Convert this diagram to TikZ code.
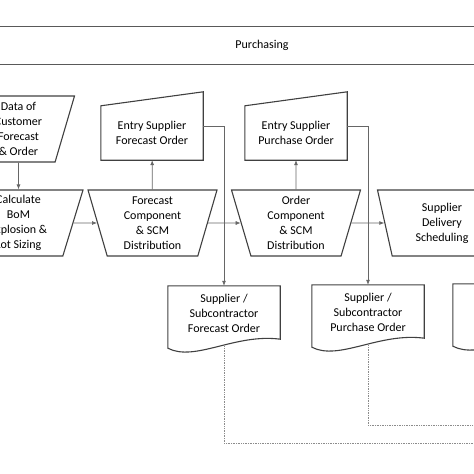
\documentclass[tikz,border=0pt]{standalone}
\usepackage{fontspec}
\setmainfont{Carlito}
\usetikzlibrary{shapes.geometric,arrows.meta}

\tikzset{
  outline/.style={draw=black!75, line width=1.1pt},
  opbox/.style={trapezium, outline, shape border rotate=180,
    trapezium left angle=70, trapezium right angle=70,
    trapezium stretches body=true, minimum width=129pt, minimum height=66pt,
    align=center, inner sep=0pt},
  entrybox/.style={minimum width=102pt, minimum height=54pt, align=center, inner sep=0pt},
  docbox/.style={minimum width=112pt, minimum height=54pt, align=center, inner sep=0pt},
  link/.style={draw=black!60, line width=0.7pt, -{Latex[length=5pt,width=4pt]}},
  feedback/.style={draw=black!45, densely dotted, line width=0.7pt},
}

\begin{document}
\begin{tikzpicture}[x=1pt,y=-1pt,font=\fontsize{12}{15}\selectfont]
    \useasboundingbox (0,0) rectangle (474,474);
    \clip (0,0) rectangle (474,474);
    % lane header
    \draw[black!65, line width=1pt] (-5,26) -- (480,26) (-5,64) -- (480,64);
    \node (lane) at (262,45) {Purchasing};

    % operations
    \node[opbox, minimum width=112pt] (data) at (18.5,129) {Data of\\Customer\\Forecast\\\& Order};
    \node[opbox] (calc) at (18.5,223) {Calculate\\BoM\\Explosion \&\\Lot Sizing};
    \node[opbox] (fcomp) at (152.5,223) {Forecast\\Component\\\& SCM\\Distribution};
    \node[opbox] (ocomp) at (296,223) {Order\\Component\\\& SCM\\Distribution};
    \node[opbox] (sdel) at (442,223) {Supplier\\Delivery\\Scheduling};

    % manual entries
    \node[entrybox] (efo) at (152,133) {Entry Supplier\\Forecast Order};
    \node[entrybox] (epo) at (296,133) {Entry Supplier\\Purchase Order};
    \foreach \n in {efo,epo}
        \draw[outline] (\n.south west) -- (\n.south east) -- ([yshift=14pt]\n.north east) -- (\n.north west) -- cycle;

    % documents
    \node[docbox] (sfo) at (224,313) {Supplier /\\Subcontractor\\Forecast Order};
    \node[docbox] (spo) at (368,312) {Supplier /\\Subcontractor\\Purchase Order};
    \node[docbox] (sxo) at (509,311) {};
    \foreach \n in {sfo,spo,sxo}
        \draw[outline] (\n.north west) -- (\n.north east) -- ([yshift=1pt]\n.south east)
            .. controls +(-45pt,6pt) and +(27pt,-14pt) .. ([yshift=-8pt]\n.south west) -- cycle;

    % flow
    \draw[link] (data) -- (calc);
    \draw[link] (calc) -- (fcomp);
    \draw[link] (fcomp) -- (ocomp);
    \draw[link] (ocomp) -- (sdel);
    \draw[link] (fcomp) -- (efo);
    \draw[link] (ocomp) -- (epo);
    \draw[link] ([yshift=7pt]efo.east) -| (sfo.north);
    \draw[link] ([yshift=7pt]epo.east) -| (spo.north);

    % dotted returns
    \coordinate (fout) at (480,443);
    \coordinate (pout) at (480,425);
    \draw[feedback] ([yshift=-6pt]sfo.south) |- (fout);
    \draw[feedback] ([yshift=-6pt]spo.south) |- (pout);
\end{tikzpicture}
\end{document}
